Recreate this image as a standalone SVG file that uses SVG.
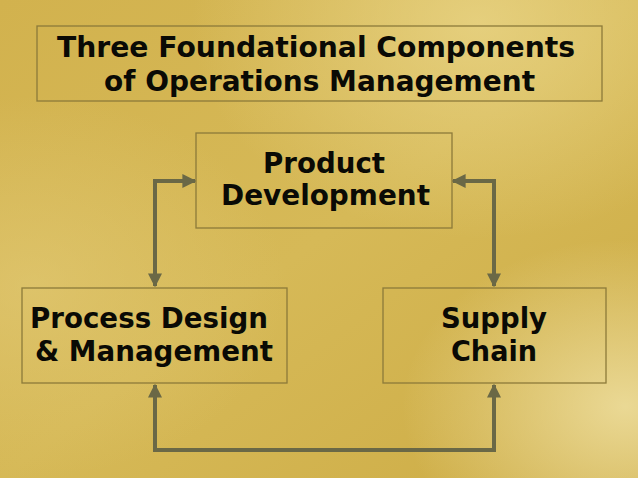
<svg xmlns="http://www.w3.org/2000/svg" width="638" height="478" viewBox="0 0 638 478">
  <defs>
    <linearGradient id="bg" x1="0" y1="0" x2="1" y2="1">
      <stop offset="0" stop-color="#d2b24e"/>
      <stop offset="0.5" stop-color="#d6b957"/>
      <stop offset="1" stop-color="#cdac45"/>
    </linearGradient>
    <radialGradient id="glow1" cx="0.75" cy="0.05" r="0.45">
      <stop offset="0" stop-color="#ecd98e" stop-opacity="0.7"/>
      <stop offset="1" stop-color="#ecd98e" stop-opacity="0"/>
    </radialGradient>
    <radialGradient id="glow2" cx="0.98" cy="0.85" r="0.35">
      <stop offset="0" stop-color="#efe0a2" stop-opacity="0.85"/>
      <stop offset="1" stop-color="#efe0a2" stop-opacity="0"/>
    </radialGradient>
    <radialGradient id="glow3" cx="0.05" cy="0.6" r="0.4">
      <stop offset="0" stop-color="#e3cb78" stop-opacity="0.6"/>
      <stop offset="1" stop-color="#e3cb78" stop-opacity="0"/>
    </radialGradient>
    <marker id="ah" viewBox="0 0 10 10" refX="9" refY="5" markerWidth="3.5" markerHeight="3.5" orient="auto-start-reverse" markerUnits="strokeWidth">
      <path d="M0,0 L10,5 L0,10 z" fill="#6a6846"/>
    </marker>
    <style>
      .box { fill: none; stroke: #8c7a3a; stroke-width: 1.3; }
      .t { font-family: "DejaVu Sans", Verdana, sans-serif; font-weight: bold; font-size: 28px; fill: #0a0a05; text-anchor: middle; }
      .conn { fill: none; stroke: #6a6846; stroke-width: 4; marker-start: url(#ah); marker-end: url(#ah); }
    </style>
  </defs>
  <rect width="638" height="478" fill="url(#bg)"/>
  <rect width="638" height="478" fill="url(#glow1)"/>
  <rect width="638" height="478" fill="url(#glow2)"/>
  <rect width="638" height="478" fill="url(#glow3)"/>

  <g id="title">
    <rect class="box" x="37" y="26" width="565" height="75"/>
    <text class="t" x="316" y="57" textLength="518" lengthAdjust="spacingAndGlyphs">Three Foundational Components</text>
    <text class="t" x="319.5" y="91" textLength="431" lengthAdjust="spacingAndGlyphs">of Operations Management</text>
  </g>
  <g id="product-development">
    <rect class="box" x="196" y="133" width="256" height="95"/>
    <text class="t" x="324" y="173" textLength="122" lengthAdjust="spacingAndGlyphs">Product</text>
    <text class="t" x="325.5" y="205" textLength="209" lengthAdjust="spacingAndGlyphs">Development</text>
  </g>
  <g id="process-design">
    <rect class="box" x="22" y="288" width="265" height="95"/>
    <text class="t" x="149" y="328" textLength="238" lengthAdjust="spacingAndGlyphs">Process Design</text>
    <text class="t" x="154" y="361" textLength="238" lengthAdjust="spacingAndGlyphs">&amp; Management</text>
  </g>
  <g id="supply-chain">
    <rect class="box" x="383" y="288" width="223" height="95"/>
    <text class="t" x="494" y="328" textLength="106" lengthAdjust="spacingAndGlyphs">Supply</text>
    <text class="t" x="494" y="361" textLength="86" lengthAdjust="spacingAndGlyphs">Chain</text>
  </g>
  <g id="connectors">
    <path class="conn" d="M155,286 L155,181 L195,181"/>
    <path class="conn" d="M494,286 L494,181 L453,181"/>
    <path class="conn" d="M155,385 L155,450 L494,450 L494,385"/>
  </g>
</svg>
